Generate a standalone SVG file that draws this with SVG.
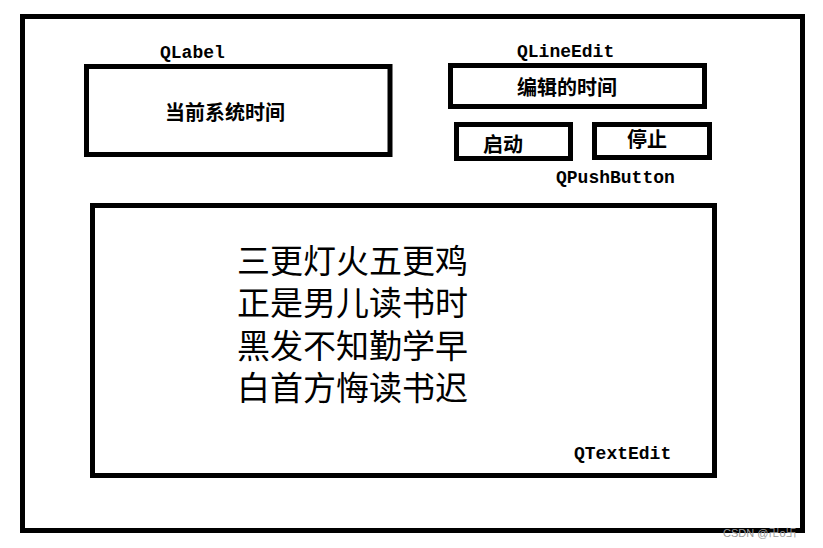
<svg xmlns="http://www.w3.org/2000/svg" width="823" height="548" viewBox="0 0 823 548">
<style>
.box{fill:none;stroke:#000;stroke-width:5}
.cls{font-family:"Liberation Mono","DejaVu Sans Mono",monospace;font-weight:bold;font-size:18px;fill:#000}
.lbl{font-family:"Noto Sans CJK SC",sans-serif;font-weight:bold;font-size:20px;fill:#000}
.poem{font-family:"Noto Sans CJK SC",sans-serif;font-size:33px;fill:#000}
.wm{font-family:"Liberation Sans","Noto Sans CJK SC",sans-serif;font-size:11px;fill:#999}
</style>
<rect width="823" height="548" fill="#fff"/>
<g id="window">
<rect class="box" x="22.5" y="16.5" width="780" height="514"/>
</g>
<g id="qlabel">
<text class="cls" x="160" y="58">QLabel</text>
<rect class="box" x="86.5" y="66.5" width="303.5" height="88"/>
<text class="lbl" x="165" y="120">当前系统时间</text>
</g>
<g id="qlineedit">
<text class="cls" x="517" y="57">QLineEdit</text>
<rect class="box" x="450.5" y="65.5" width="254" height="41"/>
<text class="lbl" x="517" y="95">编辑的时间</text>
</g>
<g id="btn-start">
<rect class="box" x="456.5" y="124.5" width="114" height="34"/>
<text class="lbl" x="483" y="152">启动</text>
</g>
<g id="btn-stop">
<rect class="box" x="594.5" y="124.5" width="115" height="33"/>
<text class="lbl" x="627" y="147">停止</text>
</g>
<g id="qpushbutton-label">
<text class="cls" x="556" y="183">QPushButton</text>
</g>
<g id="qtextedit">
<rect class="box" x="92.5" y="205.5" width="622" height="270"/>
<text class="poem" x="237" y="273">三更灯火五更鸡</text>
<text class="poem" x="237" y="315">正是男儿读书时</text>
<text class="poem" x="237" y="358">黑发不知勤学早</text>
<text class="poem" x="237" y="400">白首方悔读书迟</text>
<text class="cls" x="574" y="459">QTextEdit</text>
</g>
<g id="connectors"></g>
<text class="wm" x="723" y="537">CSDN @卍o卐</text>
</svg>
